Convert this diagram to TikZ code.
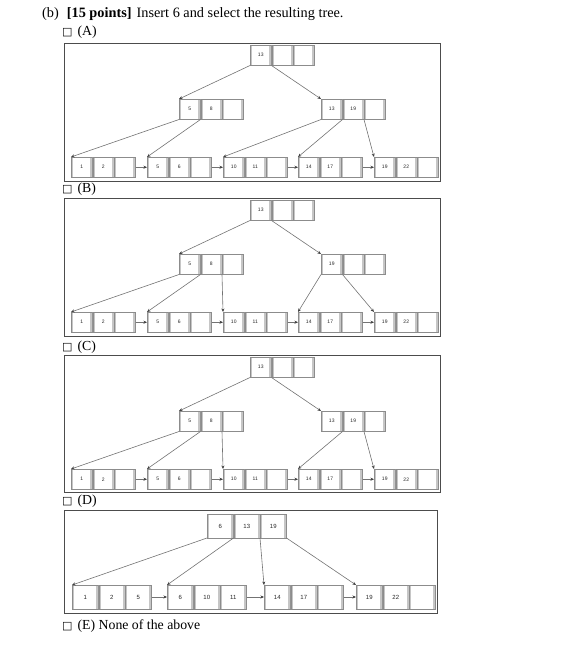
\documentclass[tikz,border=0pt]{standalone}
\usepackage{fontspec}
\setmainfont{Liberation Serif}
\newfontfamily\cellfont{Liberation Sans}
\newfontfamily\boxfont{DejaVu Sans}
\usetikzlibrary{positioning}
\usetikzlibrary{arrows.meta}

\tikzset{
  cell/.style={draw=black!45, line width=0.5pt, minimum width=21pt, minimum height=20pt,
    inner sep=0pt, font=\cellfont\fontsize{5}{6}\selectfont, text=black!85,
    path picture={\draw[gray!45, line width=4pt]
      (path picture bounding box.north west) -- (path picture bounding box.south west)
      (path picture bounding box.north east) -- (path picture bounding box.south east);}},
  bigcell/.style={cell, minimum width=26pt, minimum height=23.5pt, font=\cellfont\fontsize{6}{7}\selectfont},
  ptr/.style={draw=black!55, line width=0.6pt, -{Stealth[length=3.5pt,width=3pt,color=black!75]}},
  frame/.style={draw=black!70, line width=0.8pt},
  qtext/.style={inner sep=0pt, anchor=base west, font=\fontsize{13.8}{16}\selectfont}
}

% three keys of one B+ tree node, placed side by side
\newcommand{\keyrow}[6]{
  \node[#1, anchor=north west] (#2-1) at (#3) {#4};
  \node[#1, right=0pt of #2-1] (#2-2) {#5};
  \node[#1, right=0pt of #2-2] (#2-3) {#6};
}
\newcommand{\ballot}{{\boxfont\fontsize{11}{12}\selectfont □}\hspace{5pt}}

\begin{document}
\begin{tikzpicture}[x=1pt, y=-1pt]
  \useasboundingbox (0,0) rectangle (572,661);

  % question and answer labels
  \node[qtext, font=\fontsize{14.3}{16}\selectfont] (title) at (42,18) {(b)\hspace{8pt}\textbf{[15 points]}\hspace{5pt}Insert 6 and select the resulting tree.};
  \node[qtext] (labA) at (62,36) {\ballot(A)};
  \node[qtext] (labB) at (62,192) {\ballot(B)};
  \node[qtext] (labC) at (62,350) {\ballot(C)};
  \node[qtext] (labD) at (62,504) {\ballot(D)};
  \node[qtext] (labE) at (62,629) {\ballot(E) None of the above};

  % frames
  \draw[frame] (64,43) rectangle (440,181);
  \draw[frame] (64,198) rectangle (440,336);
  \draw[frame] (64,355) rectangle (440,492);
  \draw[frame] (64,510) rectangle (437,613);

  % leaves of A, B and C
  \foreach \p/\y in {A/157,B/312,C/469}{
    \keyrow{cell}{\p-l1}{71,\y}{1}{2}{}
    \keyrow{cell}{\p-l2}{147,\y}{5}{6}{}
    \keyrow{cell}{\p-l3}{223,\y}{10}{11}{}
    \keyrow{cell}{\p-l4}{298,\y}{14}{17}{}
    \keyrow{cell}{\p-l5}{374,\y}{19}{22}{}
    \foreach \i/\j in {1/2,2/3,3/4,4/5}
      \draw[ptr] (\p-l\i-3.east) -- (\p-l\j-1.west);
  }

  % (A)
  \keyrow{cell}{A-r}{250,45}{13}{}{}
  \keyrow{cell}{A-m1}{179,99}{5}{8}{}
  \keyrow{cell}{A-m2}{321,99}{13}{19}{}
  \draw[ptr] (A-r-1.south west) -- (A-m1-1.north west);
  \draw[ptr] (A-r-2.south west) -- (A-m2-1.north west);
  \draw[ptr] (A-m1-1.south west) -- (A-l1-1.north west);
  \draw[ptr] (A-m1-2.south west) -- (A-l2-1.north west);
  \draw[ptr] (A-m2-1.south west) -- (A-l3-1.north west);
  \draw[ptr] (A-m2-2.south west) -- (A-l4-1.north west);
  \draw[ptr] (A-m2-3.south west) -- (A-l5-1.north west);

  % (B)
  \keyrow{cell}{B-r}{250,200}{13}{}{}
  \keyrow{cell}{B-m1}{179,254}{5}{8}{}
  \keyrow{cell}{B-m2}{321,254}{19}{}{}
  \draw[ptr] (B-r-1.south west) -- (B-m1-1.north west);
  \draw[ptr] (B-r-2.south west) -- (B-m2-1.north west);
  \draw[ptr] (B-m1-1.south west) -- (B-l1-1.north west);
  \draw[ptr] (B-m1-2.south west) -- (B-l2-1.north west);
  \draw[ptr] (B-m1-3.south west) -- (B-l3-1.north west);
  \draw[ptr] (B-m2-1.south west) -- (B-l4-1.north west);
  \draw[ptr] (B-m2-2.south west) -- (B-l5-1.north west);

  % (C)
  \keyrow{cell}{C-r}{250,357}{13}{}{}
  \keyrow{cell}{C-m1}{179,411}{5}{8}{}
  \keyrow{cell}{C-m2}{321,411}{13}{19}{}
  \draw[ptr] (C-r-1.south west) -- (C-m1-1.north west);
  \draw[ptr] (C-r-2.south west) -- (C-m2-1.north west);
  \draw[ptr] (C-m1-1.south west) -- (C-l1-1.north west);
  \draw[ptr] (C-m1-2.south west) -- (C-l2-1.north west);
  \draw[ptr] (C-m1-3.south west) -- (C-l3-1.north west);
  \draw[ptr] (C-m2-2.south west) -- (C-l4-1.north west);
  \draw[ptr] (C-m2-3.south west) -- (C-l5-1.north west);

  % (D)
  \keyrow{bigcell}{D-r}{207,514}{6}{13}{19}
  \keyrow{bigcell}{D-l1}{72,585}{1}{2}{5}
  \keyrow{bigcell}{D-l2}{167,585}{6}{10}{11}
  \keyrow{bigcell}{D-l3}{264,585}{14}{17}{}
  \keyrow{bigcell}{D-l4}{356,585}{19}{22}{}
  \foreach \i/\j in {1/2,2/3,3/4}
    \draw[ptr] (D-l\i-3.east) -- (D-l\j-1.west);
  \draw[ptr] (D-r-1.south west) -- (D-l1-1.north west);
  \draw[ptr] (D-r-2.south west) -- (D-l2-1.north west);
  \draw[ptr] (D-r-3.south west) -- (D-l3-1.north west);
  \draw[ptr] (D-r-3.south east) -- (D-l4-1.north west);
\end{tikzpicture}
\end{document}
